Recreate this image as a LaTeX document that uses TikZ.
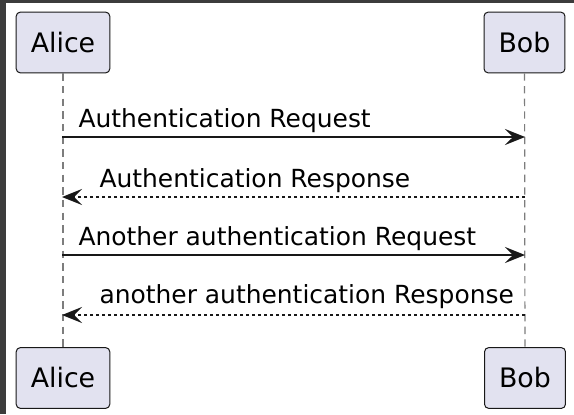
\documentclass[tikz,border=0pt]{standalone}
\usepackage{fontspec}
\setmainfont{DejaVu Sans}
\usetikzlibrary{arrows.meta}
\definecolor{framegray}{RGB}{60,60,60}
\definecolor{partfill}{RGB}{226,226,240}
\definecolor{umlline}{RGB}{24,24,24}
\definecolor{lifegray}{RGB}{125,125,125}
\tikzset{
	every path/.style={line width=0.75pt},
	participant/.style={
		draw=umlline,
		fill=partfill,
		rounded corners=3pt,
		inner xsep=10.9pt,
		minimum height=45.5pt,
		font=\fontsize{20.1}{24}\selectfont,
	},
	lifeline/.style={
		draw=lifegray,
		line width=0.9pt,
		dash pattern=on 5.5pt off 4pt,
	},
	msglabel/.style={
		anchor=base west,
		inner sep=0pt,
		font=\fontsize{18.7}{22}\selectfont,
	},
	sync/.style={
		draw=umlline,
		line width=1.3pt,
		-{Stealth[length=15pt,width=12pt,inset=6pt]},
	},
	reply/.style={
		sync,
		dash pattern=on 2.25pt off 2.25pt,
	},
}

\begin{document}
\begin{tikzpicture}[x=0.75pt,y=-0.75pt]
		% frame
		\fill[framegray] (0,0) rectangle (574,414);
		\fill[white] (5.5,3) rectangle (574,414);

		\node[participant] 	(aliceTop) at (63,42.5) {Alice};
		\node[participant] 	(bobTop) at (524.5,42.5) {Bob};
		\node[participant] 	(aliceBot) at (63,378) {Alice};
		\node[participant] 	(bobBot) at (525,378) {Bob};

		\draw[lifeline] 		(aliceTop) -- (aliceBot);
		\draw[lifeline] 		(bobTop) -- (bobBot);

		\coordinate (a1) at (62,137);  \coordinate (b1) at (525,137);
		\coordinate (a2) at (62,197);  \coordinate (b2) at (525,197);
		\coordinate (a3) at (62,255);  \coordinate (b3) at (525,255);
		\coordinate (a4) at (62,315);  \coordinate (b4) at (525,315);

		\node[msglabel] 		(req) at (78,127) {Authentication Request};
		\node[msglabel] 		(resp) at (99,187) {Authentication Response};
		\node[msglabel] 		(req2) at (78,245) {Another authentication Request};
		\node[msglabel] 		(resp2) at (99,303) {another authentication Response};

		\draw[sync] 				(a1) -- (b1);
		\draw[reply] 				(b2) -- (a2);
		\draw[sync] 				(a3) -- (b3);
		\draw[reply] 				(b4) -- (a4);

	\end{tikzpicture}
\end{document}
